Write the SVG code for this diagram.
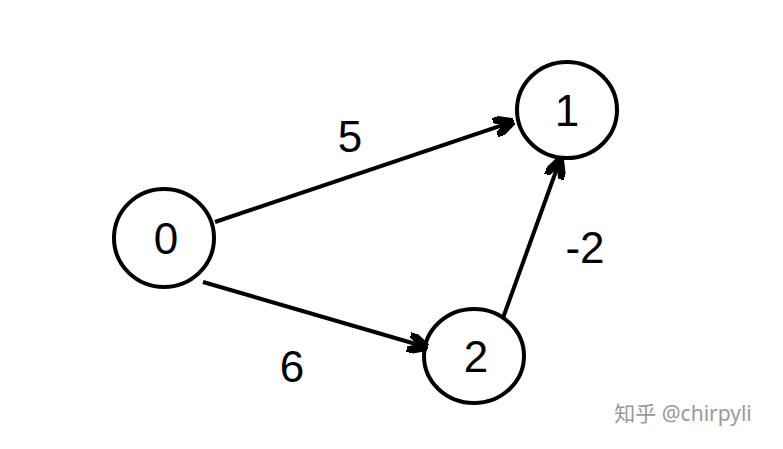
<svg xmlns="http://www.w3.org/2000/svg" width="783" height="449" viewBox="0 0 783 449">
<style>
.n{fill:none;stroke:#000;stroke-width:4}
.t{font-family:"Liberation Sans",sans-serif;font-size:44px;fill:#000;text-anchor:middle}
.e{stroke:#000;stroke-width:4;fill:none}
.h{fill:none;stroke:#000;stroke-width:4;stroke-linecap:round;stroke-linejoin:round}
</style>
<defs><marker id="a" viewBox="0 0 10 10" refX="9" refY="5" markerWidth="5" markerHeight="5" orient="auto"><path d="M1,1 L9,5 L1,9" class="h" stroke-width="2"/></marker></defs>
<rect width="783" height="449" fill="#fff"/>
<g id="connectors">
<line class="e" x1="215" y1="222" x2="512" y2="122" marker-end="url(#a)"/>
<line class="e" x1="203" y1="282" x2="426" y2="347" marker-end="url(#a)"/>
<line class="e" x1="503" y1="318" x2="560" y2="160" marker-end="url(#a)"/>
<text class="t" x="350" y="152">5</text>
<text class="t" x="292" y="382">6</text>
<text class="t" x="585" y="263">-2</text>
</g>
<g id="n0"><ellipse class="n" cx="164" cy="238" rx="50" ry="49"/><text class="t" x="166" y="254">0</text></g>
<g id="n1"><ellipse class="n" cx="567" cy="110" rx="50" ry="48"/><text class="t" x="567" y="126">1</text></g>
<g id="n2"><ellipse class="n" cx="474" cy="356" rx="50" ry="47"/><text class="t" x="476" y="372">2</text></g>
<text x="683" y="421" style="font-family:'Noto Sans','Noto Sans CJK SC',sans-serif;font-size:21px;fill:#999;text-anchor:middle">知乎 @chirpyli</text>
</svg>
